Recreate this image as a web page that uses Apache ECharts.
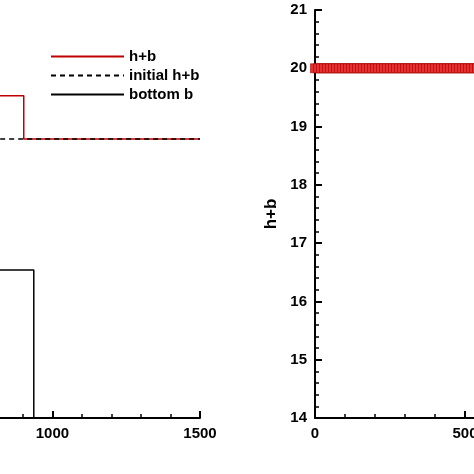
<!DOCTYPE html>
<html><head><meta charset="utf-8">
<script src="https://cdn.jsdelivr.net/npm/echarts@6/dist/echarts.min.js"></script>
<style>html,body{margin:0;padding:0;background:#fff;overflow:hidden;width:474px;height:474px}
#c{position:absolute;left:-250px;top:0;width:1100px;height:474px}</style>
</head><body><div id="c"></div>
<script>
// left panel: step profiles
var hbLine = [[0, 0.79], [903, 0.79], [903, 0.684], [1500, 0.684]];
var initLine = [[0, 0.684], [1500, 0.684]];
var bottomLine = [[0, 0.363], [937, 0.363], [937, 0]];
// right panel: h+b samples along x
var rightX = [];
for (var i = 0; i <= 1500; i += 10) rightX.push(i);
var rightY = rightX.map(function () { return 20; });

var font = 'Liberation Sans, Arial, sans-serif';
function axisCommon() {
	return {
		axisLine: { lineStyle: { color: '#000', width: 2 } },
		axisTick: { inside: true, length: 7, lineStyle: { color: '#000', width: 2 } },
		minorTick: { show: true, splitNumber: 5, length: 4, lineStyle: { color: '#000', width: 1.5 } },
		splitLine: { show: false },
		axisLabel: { color: '#000', fontWeight: 'bold', fontSize: 15, fontFamily: font,
			formatter: function (v) { return String(v); } }
	};
}

var chart = echarts.init(document.getElementById('c'));
chart.setOption({
	animation: false,
	legend: {
		orient: 'vertical', left: 295, top: 44, itemWidth: 73, itemHeight: 10, itemGap: 4,
		itemStyle: { opacity: 0 },
		textStyle: { color: '#000', fontWeight: 'bold', fontSize: 15, fontFamily: font },
		data: ['h+b', 'initial h+b', 'bottom b']
	},
	grid: [
		{ left: 0, width: 450, top: 10, bottom: 56 },
		{ left: 565, width: 450, top: 10, bottom: 56 }
	],
	xAxis: [
		Object.assign({ gridIndex: 0, type: 'value', min: 0, max: 1500, interval: 500 }, axisCommon()),
		Object.assign({ gridIndex: 1, type: 'value', min: 0, max: 1500, interval: 500 }, axisCommon())
	],
	yAxis: [
		{ gridIndex: 0, type: 'value', min: 0, max: 1, show: false },
		Object.assign({ gridIndex: 1, type: 'value', min: 14, max: 21, interval: 1,
			name: 'h+b', nameLocation: 'middle', nameGap: 35, nameRotate: 90,
			nameTextStyle: { color: '#000', fontWeight: 'bold', fontSize: 17, fontFamily: font } }, axisCommon())
	],
	series: [
		{ name: 'h+b', type: 'line', xAxisIndex: 0, yAxisIndex: 0, data: hbLine, symbol: 'none', z: 3,
			lineStyle: { color: '#c00000', width: 1.5 }, itemStyle: { color: '#c00000' } },
		{ name: 'initial h+b', type: 'line', xAxisIndex: 0, yAxisIndex: 0, data: initLine, symbol: 'none',
			lineStyle: { color: '#000', width: 1.5, type: [5, 4] }, itemStyle: { color: '#000' } },
		{ name: 'bottom b', type: 'line', xAxisIndex: 0, yAxisIndex: 0, data: bottomLine, symbol: 'none',
			lineStyle: { color: '#000', width: 1.5 }, itemStyle: { color: '#000' } },
		{ type: 'line', xAxisIndex: 1, yAxisIndex: 1, data: rightX.map(function (x, k) { return [x, rightY[k]]; }),
			symbol: 'rect', symbolSize: 9, lineStyle: { color: '#d00000', width: 1 },
			itemStyle: { color: '#e83030', borderColor: '#a00000', borderWidth: 0.6 } }
	]
});
</script></body></html>
